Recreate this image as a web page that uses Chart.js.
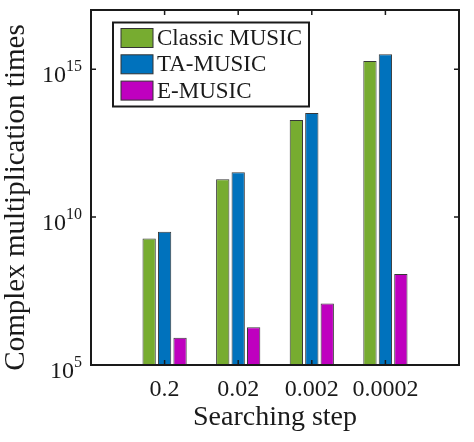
<!DOCTYPE html>
<html>
<head>
<meta charset="utf-8">
<script src="https://cdn.jsdelivr.net/npm/chart.js@4/dist/chart.umd.min.js"></script>
<style>
  html, body { margin: 0; padding: 0; background: #fff; }
  canvas { display: block; }
</style>
</head>
<body>
<canvas id="chart" width="474" height="442"></canvas>
<script>
// searching steps on the x axis
const steps = ["0.2", "0.02", "0.002", "0.0002"];
// complex multiplication counts
const classicMusic = [1.9e9, 1.9e11, 1.9e13, 1.9e15];
const taMusic = [3.2e9, 3.3e11, 3.3e13, 3.2e15];
const eMusic = [8.3e5, 1.9e6, 1.2e7, 1.2e8];
// labelled decades on the y axis
const yTickExp = [5, 10, 15];
const yMin = 1e5, yMax = 1e17;

const seriesNames = ["Classic MUSIC", "TA-MUSIC", "E-MUSIC"];
const seriesColors = ["#77ac30", "#0072bd", "#bf00bf"];

const FONT = "'Liberation Serif', 'Times New Roman', serif";

// one empty slot each side so the groups sit one step in from the box
const pad = arr => [null, ...arr, null];
const labels = ["", ...steps, ""];

const matlabAxes = {
  id: "matlabAxes",
  afterDraw(chart) {
    const ctx = chart.ctx;
    const { left, right, top, bottom } = chart.chartArea;
    const x = chart.scales.x, y = chart.scales.y;
    ctx.save();

    // box
    ctx.strokeStyle = "#1a1a1a";
    ctx.lineWidth = 2;
    ctx.strokeRect(left, top, right - left, bottom - top);

    // inward ticks
    ctx.lineWidth = 1.5;
    ctx.beginPath();
    yTickExp.forEach(e => {
      const py = y.getPixelForValue(Math.pow(10, e));
      ctx.moveTo(left, py); ctx.lineTo(left + 5, py);
      ctx.moveTo(right, py); ctx.lineTo(right - 5, py);
    });
    steps.forEach((s, i) => {
      const px = x.getPixelForValue(i + 1);
      ctx.moveTo(px, top); ctx.lineTo(px, top + 5);
      ctx.moveTo(px, bottom); ctx.lineTo(px, bottom - 5);
    });
    ctx.stroke();

    ctx.fillStyle = "#1a1a1a";

    // y tick labels 10^n
    ctx.textAlign = "right";
    ctx.textBaseline = "alphabetic";
    yTickExp.forEach(e => {
      const py = y.getPixelForValue(Math.pow(10, e));
      ctx.font = "16px " + FONT;
      const ex = String(e);
      const exW = ctx.measureText(ex).width;
      ctx.fillText(ex, left - 9, py + 2);
      ctx.font = "24px " + FONT;
      ctx.fillText("10", left - 9 - exW, py + 13);
    });

    // x tick labels
    ctx.textAlign = "center";
    ctx.font = "24px " + FONT;
    steps.forEach((s, i) => {
      ctx.fillText(s, x.getPixelForValue(i + 1), bottom + 31);
    });

    // axis titles
    ctx.font = "28px " + FONT;
    ctx.fillText("Searching step", (left + right) / 2, bottom + 60);
    ctx.save();
    ctx.font = "29px " + FONT;
    ctx.translate(16, (top + bottom) / 2 + 10);
    ctx.rotate(-Math.PI / 2);
    ctx.textBaseline = "middle";
    ctx.fillText("Complex multiplication times", 0, 0);
    ctx.restore();

    // legend box inside the axes
    const lx = left + 22, ly = top + 12.5, lw = 196, lh = 84;
    ctx.fillStyle = "#fff";
    ctx.fillRect(lx, ly, lw, lh);
    ctx.lineWidth = 2;
    ctx.strokeStyle = "#1a1a1a";
    ctx.strokeRect(lx, ly, lw, lh);
    ctx.font = "23px " + FONT;
    ctx.textAlign = "left";
    ctx.textBaseline = "middle";
    chart.data.datasets.forEach((ds, i) => {
      const cy = ly + 15.5 + i * 26.3;
      ctx.fillStyle = ds.backgroundColor;
      ctx.fillRect(lx + 8, cy - 9.5, 32, 19);
      ctx.lineWidth = 1;
      ctx.strokeStyle = "#333";
      ctx.strokeRect(lx + 8, cy - 9.5, 32, 19);
      ctx.fillStyle = "#1a1a1a";
      ctx.fillText(ds.label, lx + 44, cy + 1);
    });

    ctx.restore();
  }
};

const datasets = [classicMusic, taMusic, eMusic].map((vals, i) => ({
  label: seriesNames[i],
  data: pad(vals),
  backgroundColor: seriesColors[i],
  borderColor: "rgba(20,20,20,0.85)",
  borderWidth: 1,
  borderSkipped: false,
  categoryPercentage: 0.63,
  barPercentage: 0.86
}));

new Chart(document.getElementById("chart"), {
  type: "bar",
  data: { labels: labels, datasets: datasets },
  options: {
    responsive: false,
    animation: false,
    devicePixelRatio: 1,
    layout: { padding: { left: 91, right: 15, top: 10, bottom: 77 } },
    plugins: { legend: { display: false }, tooltip: { enabled: false } },
    scales: {
      x: {
        type: "category",
        display: false,
        offset: false
      },
      y: {
        type: "logarithmic",
        display: false,
        min: yMin,
        max: yMax
      }
    }
  },
  plugins: [matlabAxes]
});
</script>
</body>
</html>
